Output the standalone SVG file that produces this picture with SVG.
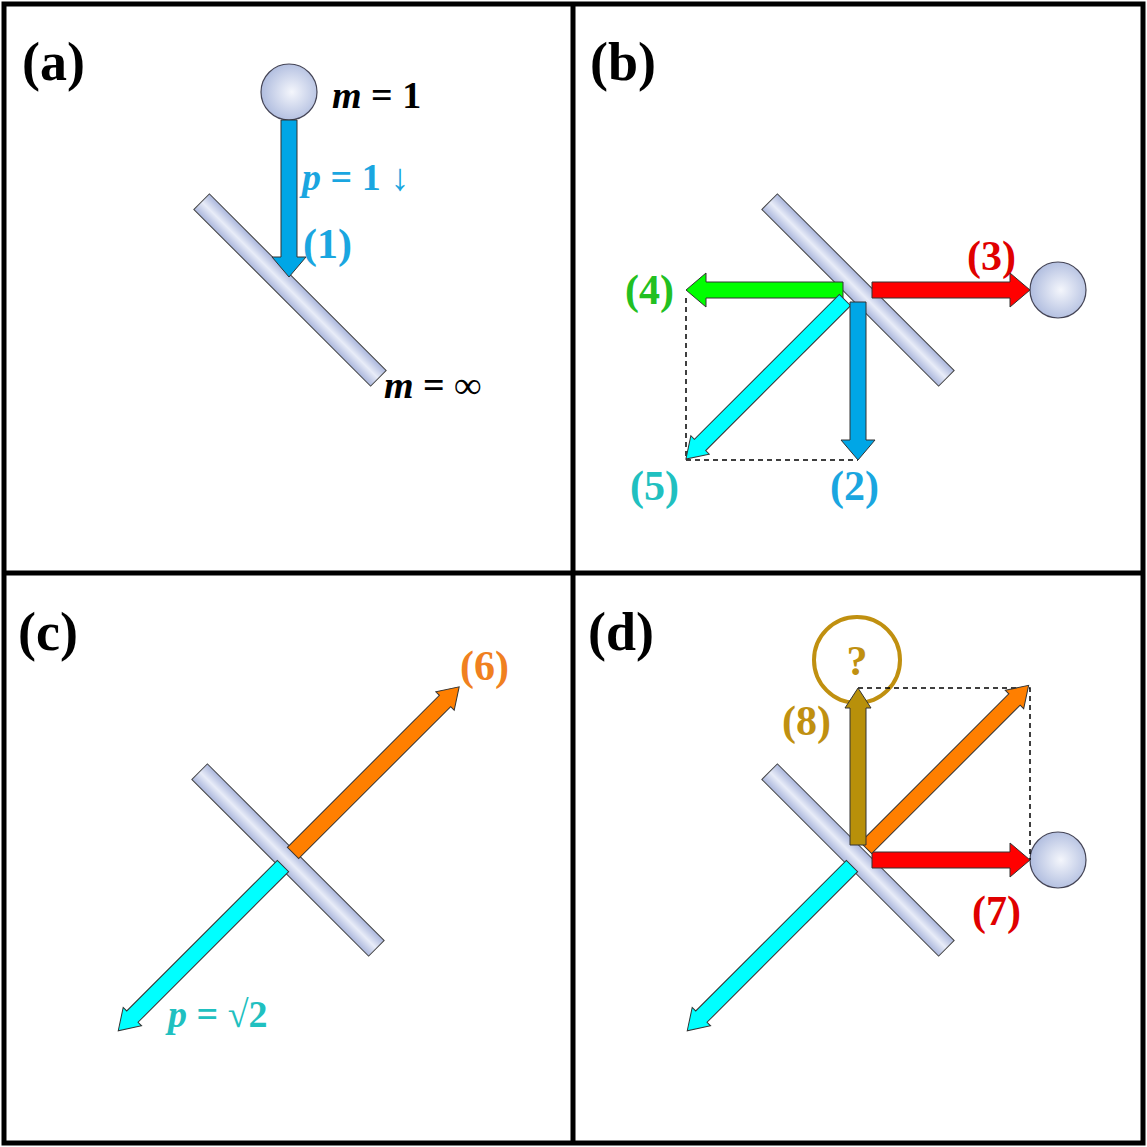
<svg xmlns="http://www.w3.org/2000/svg" width="1147" height="1147" viewBox="0 0 1147 1147">
<style>
.lbl{font-family:"Liberation Serif",serif;font-weight:bold;font-size:42px}
.pl{font-family:"Liberation Serif",serif;font-weight:bold;font-size:54px;fill:#000}
.m{font-family:"Liberation Serif",serif;font-weight:bold;font-size:38px}
.arr{stroke:#333;stroke-width:1}
.dash{stroke:#000;stroke-width:1.5;stroke-dasharray:5,4;fill:none}
.frame{stroke:#000;stroke-width:5;fill:none}
</style>
<defs>
<linearGradient id="mg" x1="0" y1="0" x2="0" y2="1">
<stop offset="0" stop-color="#aab6dc"/><stop offset="0.5" stop-color="#e8ecf8"/><stop offset="1" stop-color="#aab6dc"/>
</linearGradient>
<radialGradient id="bg" cx="0.55" cy="0.5" r="0.6">
<stop offset="0" stop-color="#f4f6fc"/><stop offset="1" stop-color="#a9b7dc"/>
</radialGradient>
<g id="mirror"><rect x="-125" y="-11" width="250" height="22" fill="url(#mg)" stroke="#444" stroke-width="1" transform="rotate(45)"/></g>
<g id="ball"><circle r="28" fill="url(#bg)" stroke="#445" stroke-width="1.2"/></g>
</defs>
<rect width="1147" height="1147" fill="#fff"/>
<g id="frame">
<rect class="frame" x="4" y="4" width="1139" height="1139"/>
<line class="frame" x1="573" y1="4" x2="573" y2="1143"/>
<line class="frame" x1="4" y1="573" x2="1143" y2="573"/>
</g>
<g id="panel-a">
<text class="pl" x="22" y="80">(a)</text>
<use href="#mirror" x="290" y="290"/>
<use href="#ball" x="289" y="92"/>
<text class="m" x="332" y="108"><tspan font-style="italic">m</tspan> = 1</text>
<text class="m" x="384" y="398"><tspan font-style="italic">m</tspan> = ∞</text>
<text class="m" x="302" y="190" fill="#1aa6e0"><tspan font-style="italic">p</tspan> = 1 ↓</text>
<text class="lbl" x="303" y="258" fill="#1aa6e0">(1)</text>
</g>
<g id="panel-b">
<text class="pl" x="590" y="80">(b)</text>
<use href="#mirror" x="858" y="290"/>
<use href="#ball" x="1058" y="290"/>
<text class="lbl" x="967" y="270" fill="#e00000">(3)</text>
<text class="lbl" x="625" y="304" fill="#22c022">(4)</text>
<text class="lbl" x="630" y="500" fill="#20c0c0">(5)</text>
<text class="lbl" x="830" y="500" fill="#1aa6e0">(2)</text>
<polyline class="dash" points="686,298 686,460 858,460"/>
</g>
<g id="panel-c">
<text class="pl" x="18" y="650">(c)</text>
<use href="#mirror" x="288" y="860"/>
<text class="lbl" x="460" y="680" fill="#f08020">(6)</text>
<text class="m" x="168" y="1027" fill="#20c0c0"><tspan font-style="italic">p</tspan> = √2</text>
</g>
<g id="panel-d">
<text class="pl" x="588" y="650">(d)</text>
<use href="#mirror" x="858" y="860"/>
<use href="#ball" x="1058" y="860"/>
<circle cx="857" cy="660" r="43" fill="none" stroke="#c09010" stroke-width="4"/>
<text class="lbl" x="857" y="675" text-anchor="middle" fill="#c09010">?</text>
<text class="lbl" x="782" y="735" fill="#c09010">(8)</text>
<text class="lbl" x="972" y="925" fill="#e00000">(7)</text>
<polyline class="dash" points="858,688 1030,688 1030,860"/>
</g>
<g id="connectors">
<path id="a1" class="arr" fill="#00a6e6" d="M0,-8H137V-17L157,0 137,17V8H0Z" transform="translate(289,120) rotate(90)"/>
<path class="arr" fill="#ff0000" d="M0,-8H138V-17L158,0 138,17V8H0Z" transform="translate(872,290)"/>
<path class="arr" fill="#00ff00" d="M0,-8H137V-17L157,0 137,17V8H0Z" transform="translate(843,290) rotate(180)"/>
<path class="arr" fill="#00ffff" d="M0,-8H205V-13L225,0 205,13V8H0Z" transform="translate(845,300) rotate(135)"/>
<path class="arr" fill="#00a6e6" d="M0,-8H138V-17L158,0 138,17V8H0Z" transform="translate(858,302) rotate(90)"/>
<path class="arr" fill="#ff7f00" d="M0,-8H215V-13L235,0 215,13V8H0Z" transform="translate(293,853) rotate(-45)"/>
<path class="arr" fill="#00ffff" d="M0,-8H213V-13L233,0 213,13V8H0Z" transform="translate(283,866) rotate(135)"/>
<path class="arr" fill="#ff0000" d="M0,-8H138V-17L158,0 138,17V8H0Z" transform="translate(872,860)"/>
<path class="arr" fill="#ff7f00" d="M0,-8H210V-13L230,0 210,13V8H0Z" transform="translate(866,848) rotate(-45)"/>
<path class="arr" fill="#b8900a" d="M0,-8H137V-13L157,0 137,13V8H0Z" transform="translate(858,845) rotate(-90)"/>
<path class="arr" fill="#00ffff" d="M0,-8H213V-13L233,0 213,13V8H0Z" transform="translate(852,866) rotate(135)"/>
</g>
</svg>
